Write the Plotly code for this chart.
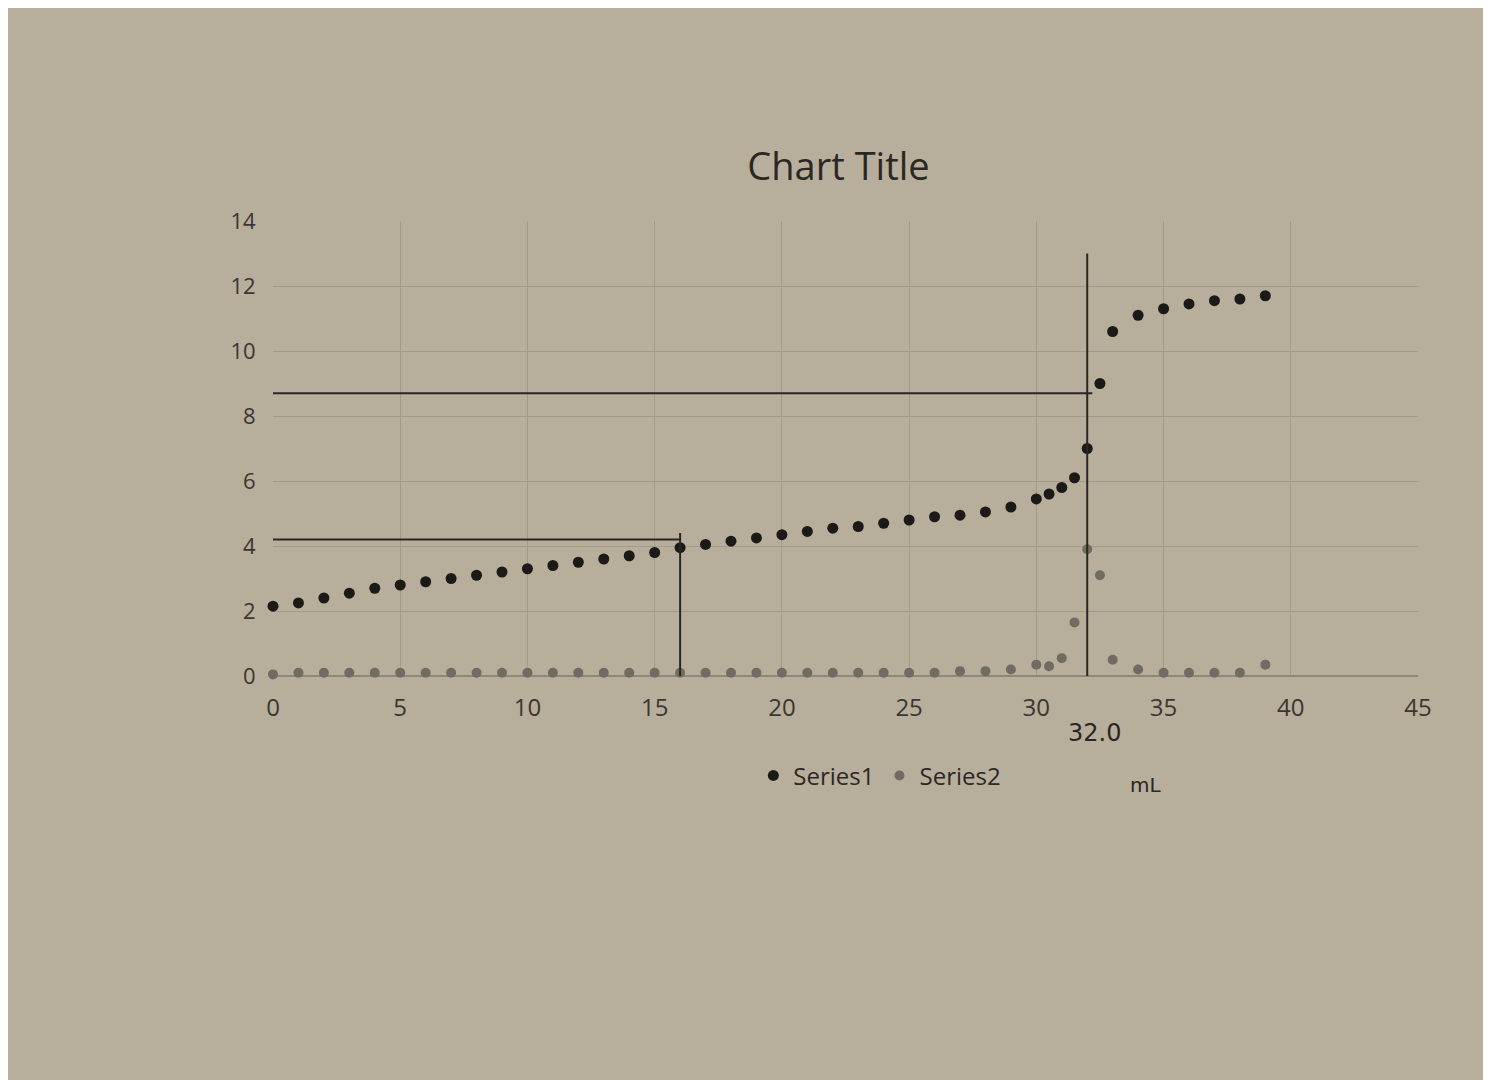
import plotly.graph_objects as go

x_vals = [0,1,2,3,4,5,6,7,8,9,10,11,12,13,14,15,16,17,18,19,20,21,22,23,24,25,26,27,28,29,30,30.5,31,31.5,32,32.5,33,34,35,36,37,38,39]
series1 = [2.15,2.25,2.4,2.55,2.7,2.8,2.9,3.0,3.1,3.2,3.3,3.4,3.5,3.6,3.7,3.8,3.95,4.05,4.15,4.25,4.35,4.45,4.55,4.6,4.7,4.8,4.9,4.95,5.05,5.2,5.45,5.6,5.8,6.1,7.0,9.0,10.6,11.1,11.3,11.45,11.55,11.6,11.7]
series2 = [0.05,0.1,0.1,0.1,0.1,0.1,0.1,0.1,0.1,0.1,0.1,0.1,0.1,0.1,0.1,0.1,0.1,0.1,0.1,0.1,0.1,0.1,0.1,0.1,0.1,0.1,0.1,0.15,0.15,0.2,0.35,0.3,0.55,1.65,3.9,3.1,0.5,0.2,0.1,0.1,0.1,0.1,0.35]

bg = "#b7af9c"
fig = go.Figure()
fig.add_trace(go.Scatter(x=x_vals, y=series1, mode="markers", name="Series1",
                         marker=dict(color="#1c1a17", size=11), cliponaxis=False))
fig.add_trace(go.Scatter(x=x_vals, y=series2, mode="markers", name="Series2",
                         marker=dict(color="#716c63", size=10), cliponaxis=False))

line = dict(color="#2a2723", width=2)
fig.add_shape(type="line", x0=0, x1=32.2, y0=8.7, y1=8.7, line=line)
fig.add_shape(type="line", x0=32, x1=32, y0=0, y1=13, line=line)
fig.add_shape(type="line", x0=-0.5, x1=16, y0=4.2, y1=4.2, line=line)
fig.add_shape(type="line", x0=16, x1=16, y0=-0.3, y1=4.4, line=line)

fig.add_annotation(x=32.3, xref="x", y=-0.16, yref="paper", text="32.0", showarrow=False,
                   font=dict(size=24, color="#2a2723", family="DejaVu Sans"))
fig.add_annotation(x=34.3, xref="x", y=-0.27, yref="paper", text="mL", showarrow=False,
                   font=dict(size=20, color="#2a2723", family="DejaVu Sans"))

fig.update_layout(
    width=1491, height=1080,
    paper_bgcolor=bg, plot_bgcolor=bg,
    margin=dict(l=265, r=81, t=213, b=412),
    title=dict(text="Chart Title", x=0.557, y=0.865, xanchor="center",
               font=dict(size=38, color="#2b2824", family="Open Sans")),
    font=dict(family="Open Sans", color="#3a3631", size=22),
    legend=dict(orientation="h", x=0.53, y=-0.17, xanchor="center", yanchor="top",
                font=dict(size=24, color="#2b2824")),
    showlegend=True,
)
fig.update_xaxes(range=[0, 45], dtick=5, showgrid=True, gridcolor="#a29b89",
                 zeroline=False, showline=False, ticks="outside", ticklen=10,
                 tickcolor="rgba(0,0,0,0)", tickfont=dict(size=24))
fig.update_yaxes(range=[0, 14], dtick=2, showgrid=True, gridcolor="#a29b89",
                 zeroline=True, zerolinecolor="#8e8878", showline=False,
                 ticks="outside", ticklen=12, tickcolor="rgba(0,0,0,0)",
                 tickfont=dict(size=22))
fig.write_html("out.html")
